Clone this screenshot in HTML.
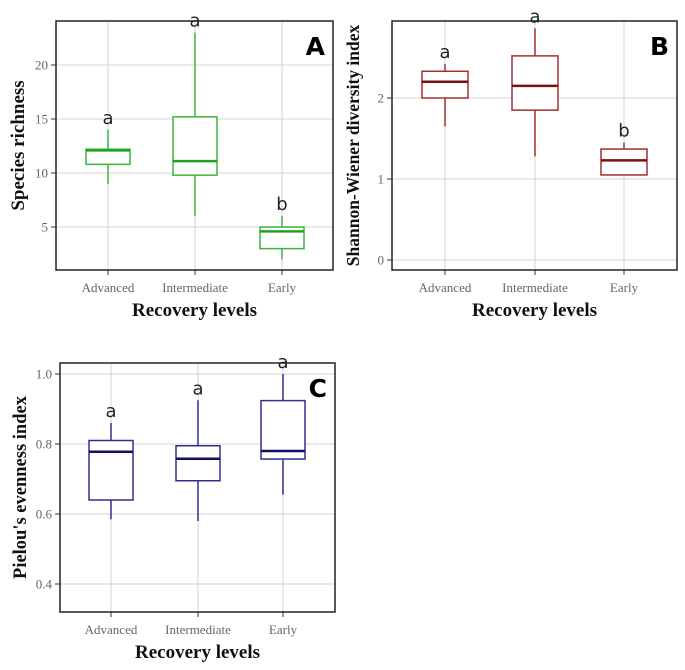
<!DOCTYPE html>
<html><head><meta charset="utf-8"><style>
body{margin:0;background:#fff;width:685px;height:670px;overflow:hidden}
svg{display:block}
</style></head><body>
<svg id="fig" width="685" height="670" xmlns="http://www.w3.org/2000/svg"></svg>
<script>
const categories = ["Advanced","Intermediate","Early"];
// A: species richness [min,q1,med,q3,max]
const richMin=[9,6,2], richQ1=[10.8,9.8,3], richMed=[12.1,11.1,4.6], richQ3=[12.2,15.2,5], richMax=[14,23,6];
const richLetters=["a","a","b"], richTicks=[5,10,15,20];
// B: Shannon-Wiener
const shanMin=[1.65,1.28,1.05], shanQ1=[2.0,1.85,1.05], shanMed=[2.2,2.15,1.23], shanQ3=[2.33,2.52,1.37], shanMax=[2.42,2.86,1.45];
const shanLetters=["a","a","b"], shanTicks=[0,1,2];
// C: Pielou
const pielMin=[0.585,0.58,0.655], pielQ1=[0.64,0.695,0.757], pielMed=[0.778,0.758,0.78], pielQ3=[0.81,0.795,0.924], pielMax=[0.86,0.925,1.0];
const pielLetters=["a","a","a"], pielTicks=["0.4","0.6","0.8","1.0"];

const NS="http://www.w3.org/2000/svg";
const svg=document.getElementById('fig');
function mk(tag,attrs,parent,txt){const e=document.createElementNS(NS,tag);for(const k in attrs)e.setAttribute(k,attrs[k]);if(txt!==undefined)e.textContent=txt;(parent||svg).appendChild(e);return e;}

function panel(o){
  const g=mk('g',{});
  
  
  const y=v=>o.y0px-(v-o.y0)*o.ppu;
  const xs=i=>o.cx[i];
  o.ticks.forEach(t=>{const v=parseFloat(t);
    const l=mk('line',{x1:o.L,x2:o.R,y1:y(v),y2:y(v),stroke:'#d4d4d4','stroke-width':1},g);
    
    mk('line',{x1:o.L-5,x2:o.L,y1:y(v),y2:y(v),stroke:'#333'},g);
    const tx=mk('text',{x:o.L-8,y:y(v)+4.5,'text-anchor':'end','font-family':'Liberation Serif, serif','font-size':13,fill:'#666'},g,t);
    
  });
  categories.forEach((c,i)=>{
    mk('line',{x1:xs(i),x2:xs(i),y1:o.T,y2:o.B,stroke:'#d4d4d4'},g);
    mk('line',{x1:xs(i),x2:xs(i),y1:o.B,y2:o.B+5,stroke:'#333'},g);
    const tx=mk('text',{x:xs(i),y:o.B+22,'text-anchor':'middle','font-family':'Liberation Serif, serif','font-size':13,fill:'#666'},g,c);
    
  });
  categories.forEach((c,i)=>{
    const bg=mk('g',{},g);
    
    
    const hw=o.hw;
    mk('line',{x1:xs(i),x2:xs(i),y1:y(o.max[i]),y2:y(o.q3[i]),stroke:o.col,'stroke-width':1.5},bg);
    mk('line',{x1:xs(i),x2:xs(i),y1:y(o.q1[i]),y2:y(o.min[i]),stroke:o.col,'stroke-width':1.5},bg);
    mk('rect',{x:xs(i)-hw,y:y(o.q3[i]),width:2*hw,height:Math.max(0.5,y(o.q1[i])-y(o.q3[i])),fill:'#fff',stroke:o.col,'stroke-width':1.5},bg);
    mk('line',{x1:xs(i)-hw,x2:xs(i)+hw,y1:y(o.med[i]),y2:y(o.med[i]),stroke:o.medcol,'stroke-width':2.5},bg);
    const lt=mk('text',{x:xs(i),y:y(o.max[i])-6,'text-anchor':'middle','font-family':'DejaVu Sans, sans-serif','font-size':18,fill:'#222'},g,o.letters[i]);
    
  });
  const fr=mk('rect',{x:o.L,y:o.T,width:o.R-o.L,height:o.B-o.T,fill:'none',stroke:'#222','stroke-width':1.5},g);
  
  const pl=mk('text',{x:o.R-8,y:o.T+34,'text-anchor':'end','font-family':'DejaVu Sans, sans-serif','font-size':25,'font-weight':'bold',fill:'#000'},g,o.panel);
  
  const xt=mk('text',{x:(o.L+o.R)/2,y:o.B+46,'text-anchor':'middle','font-family':'Liberation Serif, serif','font-size':19,'font-weight':'bold',fill:'#111'},g,'Recovery levels');
  
  const yt=mk('text',{x:0,y:0,transform:`translate(${o.ytx},${(o.T+o.B)/2}) rotate(-90)`,'text-anchor':'middle','font-family':'Liberation Serif, serif','font-size':o.yfs,'font-weight':'bold',fill:'#111'},g,o.ytitle);
  
}
panel({name:'panel-a-species-richness',panel:'A',L:56,R:333,T:21,B:270,y0:20,y0px:65,ppu:10.8,cx:[108,195,282],hw:22,
  min:richMin,q1:richQ1,med:richMed,q3:richQ3,max:richMax,letters:richLetters,ticks:richTicks.map(String),
  col:'#3cb43c',medcol:'#22a022',ytitle:'Species richness',ytx:24,yfs:19});
panel({name:'panel-b-shannon',panel:'B',L:392,R:677,T:21,B:270,y0:2,y0px:98,ppu:81,cx:[445,535,624],hw:23,
  min:shanMin,q1:shanQ1,med:shanMed,q3:shanQ3,max:shanMax,letters:shanLetters,ticks:shanTicks.map(String),
  col:'#a03030',medcol:'#7a1010',ytitle:'Shannon-Wiener diversity index',ytx:359,yfs:17.5});
panel({name:'panel-c-pielou',panel:'C',L:60,R:335,T:363,B:612,y0:1.0,y0px:374,ppu:350,cx:[111,198,283],hw:22,
  min:pielMin,q1:pielQ1,med:pielMed,q3:pielQ3,max:pielMax,letters:pielLetters,ticks:pielTicks,
  col:'#30308a',medcol:'#101060',ytitle:"Pielou's evenness index",ytx:26,yfs:18.5});
</script>
</body></html>
